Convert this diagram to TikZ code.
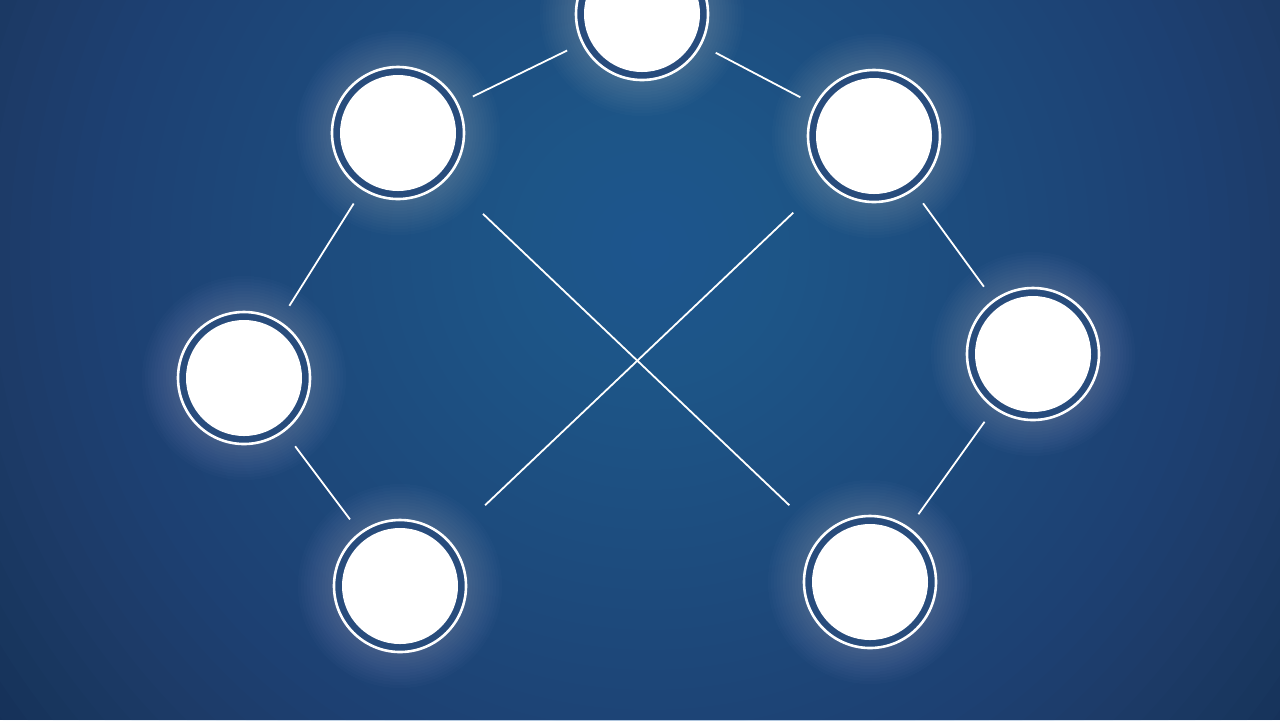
\documentclass[tikz,border=0pt]{standalone}
\usetikzlibrary{calc}
\definecolor{bglight}{RGB}{60,116,176}
\definecolor{bgout}{RGB}{21,48,88}
\definecolor{gapc}{HTML}{284C7C}
\tikzset{
  ring/.style={circle, draw=white, line width=1.3pt, fill=gapc, minimum size=66pt, inner sep=0pt},
  core/.style={circle, fill=white, minimum size=58pt, inner sep=0pt},
  link/.style={draw=white, line width=0.9pt},
}
\begin{document}
\begin{tikzpicture}[x=0.5pt,y=-0.5pt]
\clip (0,0) rectangle (1280,720);
\fill[bgout] (0,0) rectangle (1280,720);
\foreach \r in {400,390,...,10}{
  \fill[bglight, opacity=0.032] (650,250) circle[radius=\r pt];
}
% glows
\foreach \p in {(642,14),(398,133),(874,136),(244,378),(1033,354),(400,586),(870,582)}{
  \foreach \r in {33,34.5,...,52}{
    \fill[white, opacity=0.016] \p circle[radius=\r pt];
  }
}
\node[ring] (t) at (642,14) {};
\node[ring] (ul) at (398,133) {};
\node[ring] (ur) at (874,136) {};
\node[ring] (l) at (244,378) {};
\node[ring] (r) at (1033,354) {};
\node[ring] (bl) at (400,586) {};
\node[ring] (br) at (870,582) {};
\foreach \n in {t,ul,ur,l,r,bl,br}{ \node[core] at (\n) {}; }
\draw[link, shorten <=8pt, shorten >=8pt] (ul) -- (t);
\draw[link, shorten <=8pt, shorten >=8pt] (t) -- (ur);
\draw[link, shorten <=8pt, shorten >=9pt] (ul) -- (l);
\draw[link, shorten <=9pt, shorten >=8pt] (l) -- (bl);
\draw[link, shorten <=8pt, shorten >=8pt] (ur) -- (r);
\draw[link, shorten <=8pt, shorten >=8pt] (r) -- (br);
\draw[link, shorten <=25pt, shorten >=22pt] (ul) -- (br);
\draw[link, shorten <=22pt, shorten >=25pt] (ur) -- (bl);
\end{tikzpicture}
\end{document}
